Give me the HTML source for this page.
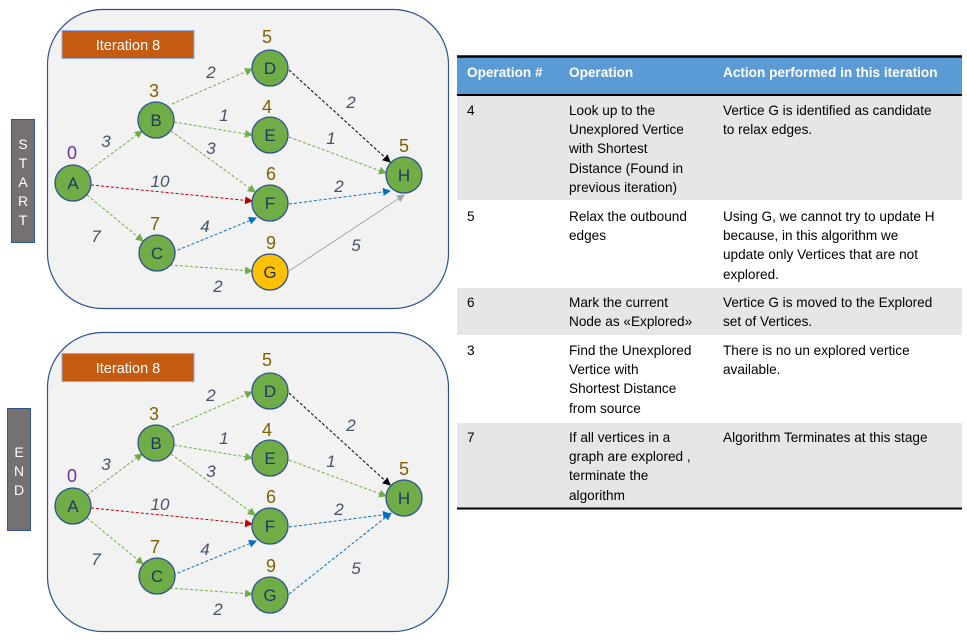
<!DOCTYPE html>
<html><head><meta charset="utf-8"><style>
html,body{margin:0;padding:0;background:#fff;}
svg{display:block;font-family:"Liberation Sans",sans-serif;}
.n{fill:#70ad47;stroke:#2f528f;stroke-width:1.3}
.nl{font-size:17px;fill:#1f3864;text-anchor:middle}
.d{font-size:18px;fill:#7f6000;text-anchor:middle}
.w{font-size:17px;fill:#44546a;text-anchor:middle;font-style:italic}
.t{font-size:13.6px;fill:#000}
.h{font-size:13.6px;fill:#fff;font-weight:bold}
</style></head><body>
<svg width="967" height="642" viewBox="0 0 967 642">
<defs>
<marker id="mg" markerWidth="8" markerHeight="8" refX="7" refY="4" orient="auto" markerUnits="userSpaceOnUse"><path d="M0,0 L8,4 L0,8z" fill="#70ad47"/></marker>
<marker id="mr" markerWidth="8" markerHeight="8" refX="7" refY="4" orient="auto" markerUnits="userSpaceOnUse"><path d="M0,0 L8,4 L0,8z" fill="#c00000"/></marker>
<marker id="mb" markerWidth="8" markerHeight="8" refX="7" refY="4" orient="auto" markerUnits="userSpaceOnUse"><path d="M0,0 L8,4 L0,8z" fill="#0070c0"/></marker>
<marker id="mk" markerWidth="8" markerHeight="8" refX="7" refY="4" orient="auto" markerUnits="userSpaceOnUse"><path d="M0,0 L8,4 L0,8z" fill="#000"/></marker>
<marker id="ma" markerWidth="8" markerHeight="8" refX="7" refY="4" orient="auto" markerUnits="userSpaceOnUse"><path d="M0,0 L8,4 L0,8z" fill="#a6a6a6"/></marker>
</defs>

<!-- START panel -->
<rect x="11.5" y="119.5" width="23" height="123" fill="#767171" stroke="#2f5597" stroke-width="1"/>
<g font-size="14" fill="#fff" text-anchor="middle"><text x="23" y="149">S</text><text x="23" y="168">T</text><text x="23" y="187">A</text><text x="23" y="206">R</text><text x="23" y="225">T</text></g>
<rect x="7.5" y="408.5" width="23" height="122" fill="#767171" stroke="#2f5597" stroke-width="1"/>
<g font-size="14" fill="#fff" text-anchor="middle"><text x="19" y="457">E</text><text x="19" y="476">N</text><text x="19" y="495">D</text></g>

<!-- top graph -->
<g>
<rect x="47.5" y="9.5" width="401" height="299" rx="55" fill="#f2f2f2" stroke="#2f528f" stroke-width="1.2"/>
<rect x="62" y="30.5" width="132" height="28" fill="#c55a11" stroke="#8faadc" stroke-width="1"/>
<text x="128" y="50" font-size="14.5" fill="#fff" text-anchor="middle">Iteration 8</text>
<g stroke-width="1" stroke-dasharray="3,2" fill="none">
<line x1="87" y1="172" x2="142" y2="131" stroke="#70ad47" marker-end="url(#mg)"/>
<line x1="91" y1="185" x2="252" y2="201" stroke="#c00000" marker-end="url(#mr)"/>
<line x1="87" y1="195" x2="143" y2="241" stroke="#70ad47" marker-end="url(#mg)"/>
<line x1="172" y1="104" x2="252" y2="69" stroke="#70ad47" marker-end="url(#mg)"/>
<line x1="174" y1="122" x2="252" y2="135" stroke="#70ad47" marker-end="url(#mg)"/>
<line x1="171" y1="131" x2="255" y2="192" stroke="#70ad47" marker-end="url(#mg)"/>
<line x1="173" y1="252" x2="256" y2="218" stroke="#0070c0" marker-end="url(#mb)"/>
<line x1="170" y1="265" x2="252" y2="271" stroke="#70ad47" marker-end="url(#mg)"/>
<line x1="289" y1="70" x2="390" y2="162" stroke="#000" marker-end="url(#mk)"/>
<line x1="289" y1="137" x2="386" y2="173" stroke="#70ad47" marker-end="url(#mg)"/>
<line x1="289" y1="204" x2="390" y2="191" stroke="#0070c0" marker-end="url(#mb)"/>
<line x1="289" y1="271" x2="404" y2="195" stroke="#a6a6a6" stroke-dasharray="none" marker-end="url(#ma)"/>
</g>
<circle class="n" cx="73" cy="183" r="18"/><text class="nl" x="73" y="189">A</text>
<circle class="n" cx="156" cy="120" r="18"/><text class="nl" x="156" y="126">B</text>
<circle class="n" cx="157" cy="253" r="18"/><text class="nl" x="157" y="259">C</text>
<circle class="n" cx="270" cy="68" r="18"/><text class="nl" x="270" y="74">D</text>
<circle class="n" cx="270" cy="135" r="18"/><text class="nl" x="270" y="141">E</text>
<circle class="n" cx="270" cy="203" r="18"/><text class="nl" x="270" y="209">F</text>
<circle class="n" cx="270" cy="272" r="18" style="fill:#ffc000"/><text class="nl" x="270" y="278">G</text>
<circle class="n" cx="404" cy="175" r="18"/><text class="nl" x="404" y="181">H</text>
<text class="d" x="72" y="159" style="fill:#7030a0">0</text>
<text class="d" x="154" y="97">3</text><text class="d" x="155" y="230">7</text>
<text class="d" x="267" y="43">5</text><text class="d" x="267" y="113">4</text>
<text class="d" x="271" y="180">6</text><text class="d" x="271" y="249">9</text>
<text class="d" x="404" y="152">5</text>
<text class="w" x="106" y="147">3</text><text class="w" x="160" y="187">10</text>
<text class="w" x="96" y="242">7</text><text class="w" x="211" y="78">2</text>
<text class="w" x="224" y="121">1</text><text class="w" x="211" y="154">3</text>
<text class="w" x="351" y="108">2</text><text class="w" x="331" y="144">1</text>
<text class="w" x="339" y="192">2</text><text class="w" x="205" y="232">4</text>
<text class="w" x="356" y="251">5</text><text class="w" x="218" y="292">2</text>
</g>

<!-- bottom graph -->
<g transform="translate(0,323)">
<rect x="47.5" y="9.5" width="401" height="299" rx="55" fill="#f2f2f2" stroke="#2f528f" stroke-width="1.2"/>
<rect x="62" y="30.5" width="132" height="28" fill="#c55a11" stroke="#8faadc" stroke-width="1"/>
<text x="128" y="50" font-size="14.5" fill="#fff" text-anchor="middle">Iteration 8</text>
<g stroke-width="1" stroke-dasharray="3,2" fill="none">
<line x1="87" y1="172" x2="142" y2="131" stroke="#70ad47" marker-end="url(#mg)"/>
<line x1="91" y1="185" x2="252" y2="201" stroke="#c00000" marker-end="url(#mr)"/>
<line x1="87" y1="195" x2="143" y2="241" stroke="#70ad47" marker-end="url(#mg)"/>
<line x1="172" y1="104" x2="252" y2="69" stroke="#70ad47" marker-end="url(#mg)"/>
<line x1="174" y1="122" x2="252" y2="135" stroke="#70ad47" marker-end="url(#mg)"/>
<line x1="171" y1="131" x2="255" y2="192" stroke="#70ad47" marker-end="url(#mg)"/>
<line x1="173" y1="252" x2="256" y2="218" stroke="#0070c0" marker-end="url(#mb)"/>
<line x1="170" y1="265" x2="252" y2="271" stroke="#70ad47" marker-end="url(#mg)"/>
<line x1="289" y1="70" x2="390" y2="162" stroke="#000" marker-end="url(#mk)"/>
<line x1="289" y1="137" x2="386" y2="173" stroke="#70ad47" marker-end="url(#mg)"/>
<line x1="289" y1="204" x2="390" y2="191" stroke="#0070c0" marker-end="url(#mb)"/>
<line x1="289" y1="271" x2="391" y2="190" stroke="#0070c0" marker-end="url(#mb)"/>
</g>
<circle class="n" cx="73" cy="183" r="18"/><text class="nl" x="73" y="189">A</text>
<circle class="n" cx="156" cy="120" r="18"/><text class="nl" x="156" y="126">B</text>
<circle class="n" cx="157" cy="253" r="18"/><text class="nl" x="157" y="259">C</text>
<circle class="n" cx="270" cy="68" r="18"/><text class="nl" x="270" y="74">D</text>
<circle class="n" cx="270" cy="135" r="18"/><text class="nl" x="270" y="141">E</text>
<circle class="n" cx="270" cy="203" r="18"/><text class="nl" x="270" y="209">F</text>
<circle class="n" cx="270" cy="272" r="18"/><text class="nl" x="270" y="278">G</text>
<circle class="n" cx="404" cy="175" r="18"/><text class="nl" x="404" y="181">H</text>
<text class="d" x="72" y="159" style="fill:#7030a0">0</text>
<text class="d" x="154" y="97">3</text><text class="d" x="155" y="230">7</text>
<text class="d" x="267" y="43">5</text><text class="d" x="267" y="113">4</text>
<text class="d" x="271" y="180">6</text><text class="d" x="271" y="249">9</text>
<text class="d" x="404" y="152">5</text>
<text class="w" x="106" y="147">3</text><text class="w" x="160" y="187">10</text>
<text class="w" x="96" y="242">7</text><text class="w" x="211" y="78">2</text>
<text class="w" x="224" y="121">1</text><text class="w" x="211" y="154">3</text>
<text class="w" x="351" y="108">2</text><text class="w" x="331" y="144">1</text>
<text class="w" x="339" y="192">2</text><text class="w" x="205" y="232">4</text>
<text class="w" x="356" y="251">5</text><text class="w" x="218" y="292">2</text>
</g>

<!-- table -->
<rect x="457" y="57" width="505" height="38" fill="#5b9bd5"/>
<rect x="457" y="95" width="505" height="105" fill="#e7e6e6"/>
<rect x="457" y="288" width="505" height="47" fill="#e7e6e6"/>
<rect x="457" y="423" width="505" height="85" fill="#e7e6e6"/>
<line x1="457" y1="56.5" x2="962" y2="56.5" stroke="#000" stroke-width="2.5"/>
<line x1="457" y1="95" x2="962" y2="95" stroke="#000" stroke-width="2"/>
<line x1="457" y1="508.5" x2="962" y2="508.5" stroke="#000" stroke-width="2"/>
<g class="h"><text class="h" x="467" y="77">Operation #</text><text class="h" x="569" y="77">Operation</text><text class="h" x="723" y="77">Action performed in this iteration</text></g>
<g class="t">
<text class="t" x="467" y="115">4</text>
<text class="t" x="569" y="115">Look up to the</text>
<text class="t" x="569" y="134">Unexplored Vertice</text>
<text class="t" x="569" y="153">with Shortest</text>
<text class="t" x="569" y="173">Distance (Found in</text>
<text class="t" x="569" y="192">previous iteration)</text>
<text class="t" x="723" y="115">Vertice G is identified as candidate</text>
<text class="t" x="723" y="134">to relax edges.</text>

<text class="t" x="467" y="221">5</text>
<text class="t" x="569" y="221">Relax the outbound</text>
<text class="t" x="569" y="240">edges</text>
<text class="t" x="723" y="221">Using G, we cannot try to update H</text>
<text class="t" x="723" y="240">because, in this algorithm we</text>
<text class="t" x="723" y="259">update only Vertices that are not</text>
<text class="t" x="723" y="279">explored.</text>

<text class="t" x="467" y="307">6</text>
<text class="t" x="569" y="307">Mark the current</text>
<text class="t" x="569" y="326">Node as «Explored»</text>
<text class="t" x="723" y="307">Vertice G is moved to the Explored</text>
<text class="t" x="723" y="326">set of Vertices.</text>

<text class="t" x="467" y="355">3</text>
<text class="t" x="569" y="355">Find the Unexplored</text>
<text class="t" x="569" y="374">Vertice with</text>
<text class="t" x="569" y="393">Shortest Distance</text>
<text class="t" x="569" y="413">from source</text>
<text class="t" x="723" y="355">There is no un explored vertice</text>
<text class="t" x="723" y="374">available.</text>

<text class="t" x="467" y="442">7</text>
<text class="t" x="569" y="442">If all vertices in a</text>
<text class="t" x="569" y="461">graph are explored ,</text>
<text class="t" x="569" y="480">terminate the</text>
<text class="t" x="569" y="500">algorithm</text>
<text class="t" x="723" y="442">Algorithm Terminates at this stage</text>
</g>
</svg>
</body></html>
